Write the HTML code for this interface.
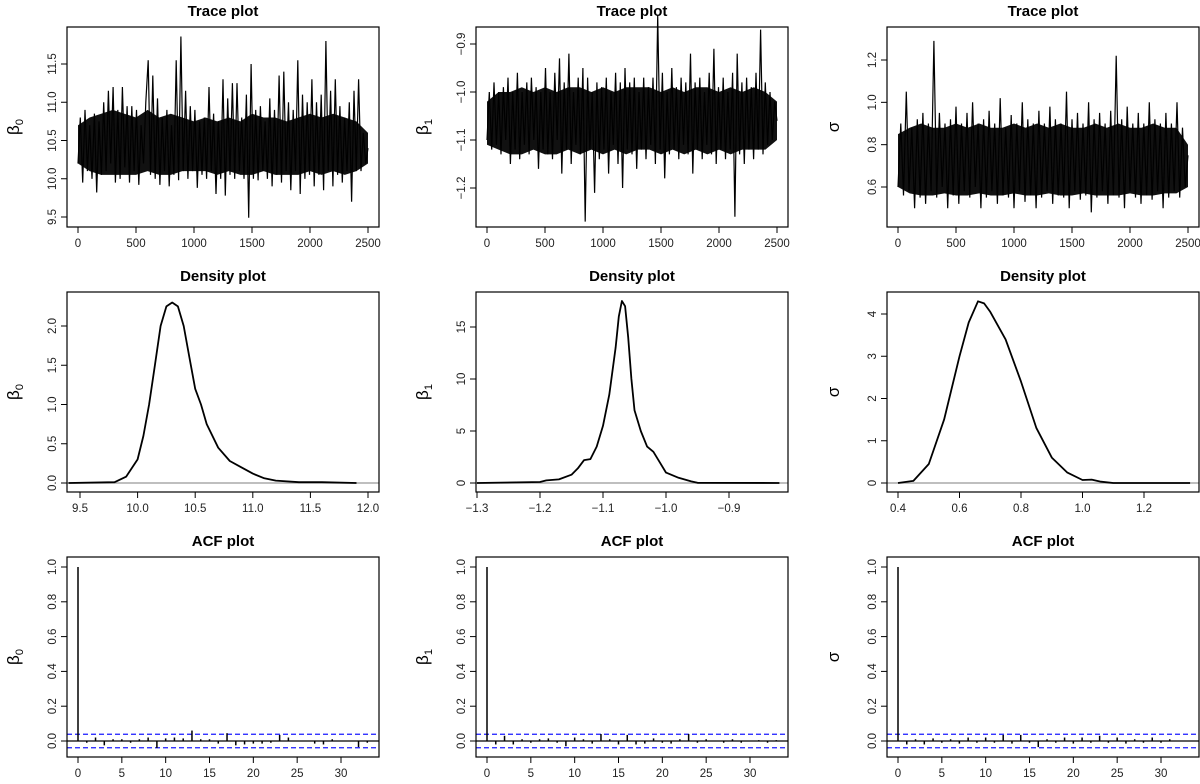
<!DOCTYPE html>
<html><head><meta charset="utf-8"><style>
body{margin:0;background:#fff;}
svg{display:block;font-family:"Liberation Sans",sans-serif;}
</style></head><body>
<svg id="c" width="1200" height="784" viewBox="0 0 1200 784"></svg>
<script>
const traceB0=[10.2,10.8,9.95,10.9,10.1,10.7,10.0,10.85,9.82,10.75,10.05,11.0,10.1,11.15,10.2,11.2,9.95,10.9,10.0,11.2,10.15,10.95,9.95,10.95,10.1,10.9,9.92,10.7,10.2,11.0,11.55,10.05,11.35,10.0,11.05,9.92,10.8,10.1,10.9,9.9,10.7,10.05,11.55,9.98,11.86,10.1,11.15,10.0,10.95,10.1,10.9,9.88,10.75,10.05,10.8,10.0,11.2,10.1,10.85,9.8,10.75,10.0,11.3,9.78,11.05,10.05,11.25,10.0,11.25,10.1,10.8,10.0,11.1,9.49,11.5,10.0,10.9,9.98,10.95,10.1,10.75,10.0,11.05,9.9,10.9,10.05,11.35,9.95,11.4,10.1,11.0,9.85,10.9,10.1,11.55,9.8,11.1,10.0,11.0,10.05,11.3,9.9,11.0,10.05,11.1,9.85,11.8,10.1,11.15,9.9,11.3,10.05,10.95,9.95,10.8,10.1,11.0,9.7,11.15,10.1,11.3,10.1,10.6,10.2,10.4];
const traceB1=[-1.1,-1.0,-1.12,-0.98,-1.11,-1.0,-1.13,-0.99,-1.1,-0.97,-1.15,-1.0,-1.12,-0.96,-1.14,-1.0,-1.11,-0.98,-1.13,-0.97,-1.1,-0.99,-1.16,-1.0,-1.12,-0.95,-1.13,-1.0,-1.14,-0.96,-1.1,-0.93,-1.17,-0.98,-1.12,-0.92,-1.15,-1.0,-1.11,-0.97,-1.13,-0.95,-1.27,-0.97,-1.12,-1.0,-1.21,-0.98,-1.14,-0.99,-1.12,-0.97,-1.17,-1.0,-1.11,-0.96,-1.15,-0.98,-1.2,-0.95,-1.12,-0.98,-1.13,-0.97,-1.16,-1.0,-1.12,-0.97,-1.14,-0.99,-1.11,-0.97,-1.15,-0.84,-1.12,-0.96,-1.18,-1.0,-1.13,-0.95,-1.12,-0.99,-1.14,-0.97,-1.11,-0.98,-1.13,-0.92,-1.17,-0.98,-1.12,-0.97,-1.14,-1.0,-1.11,-0.96,-1.13,-0.91,-1.15,-0.99,-1.12,-0.97,-1.14,-1.0,-1.12,-0.96,-1.26,-0.92,-1.13,-0.98,-1.15,-0.97,-1.12,-0.99,-1.14,-0.96,-1.12,-0.87,-1.13,-0.98,-1.11,-1.0,-1.1,-1.02,-1.06];
const traceS=[0.6,0.9,0.56,1.05,0.58,0.88,0.5,0.92,0.55,0.95,0.52,0.9,0.58,1.29,0.55,0.95,0.6,0.9,0.5,0.92,0.56,0.98,0.52,0.9,0.58,0.95,0.55,1.0,0.6,0.9,0.5,0.92,0.55,0.96,0.58,0.9,0.52,1.02,0.56,0.88,0.55,0.94,0.5,0.9,0.58,1.0,0.53,0.92,0.56,0.9,0.5,0.96,0.55,0.9,0.58,0.98,0.52,0.92,0.56,0.9,0.55,1.05,0.5,0.92,0.58,0.95,0.54,0.9,0.56,1.0,0.48,0.92,0.55,0.95,0.58,0.9,0.52,0.96,0.56,1.22,0.55,0.92,0.5,0.98,0.58,0.9,0.55,0.95,0.52,0.9,0.56,1.0,0.54,0.92,0.58,0.9,0.5,0.95,0.55,0.9,0.58,1.0,0.55,0.88,0.6,0.75];
// dense core band of each chain (upper/lower envelope every 100 iterations)
const bandB0Hi=[10.7,10.8,10.85,10.9,10.85,10.8,10.9,10.8,10.85,10.8,10.75,10.8,10.75,10.8,10.75,10.85,10.8,10.8,10.75,10.8,10.85,10.8,10.85,10.8,10.75,10.6];
const bandB0Lo=[10.2,10.1,10.05,10.05,10.05,10.05,10.1,10.05,10.05,10.1,10.1,10.1,10.05,10.1,10.05,10.05,10.1,10.05,10.05,10.05,10.1,10.05,10.1,10.05,10.1,10.2];
const bandB1Hi=[-1.02,-1.0,-1.0,-0.99,-1.0,-0.99,-1.0,-0.99,-0.99,-1.0,-0.99,-1.0,-0.99,-0.99,-0.99,-1.0,-0.99,-1.0,-0.99,-0.99,-1.0,-0.99,-1.0,-0.99,-1.0,-1.02];
const bandB1Lo=[-1.11,-1.12,-1.13,-1.13,-1.12,-1.13,-1.13,-1.12,-1.13,-1.12,-1.13,-1.12,-1.13,-1.12,-1.12,-1.13,-1.12,-1.13,-1.12,-1.13,-1.12,-1.13,-1.12,-1.12,-1.12,-1.1];
const bandSHi=[0.85,0.88,0.9,0.88,0.88,0.9,0.88,0.9,0.88,0.88,0.9,0.88,0.9,0.88,0.9,0.88,0.88,0.9,0.88,0.9,0.88,0.88,0.9,0.88,0.88,0.8];
const bandSLo=[0.6,0.57,0.56,0.56,0.57,0.56,0.56,0.57,0.56,0.56,0.57,0.56,0.56,0.57,0.56,0.56,0.57,0.56,0.56,0.56,0.57,0.56,0.56,0.57,0.57,0.6];
const densB0x=[9.4,9.8,9.9,10.0,10.05,10.1,10.15,10.2,10.25,10.3,10.35,10.4,10.45,10.5,10.55,10.6,10.7,10.8,10.9,11.0,11.1,11.2,11.4,11.6,11.9];
const densB0y=[0,0.01,0.08,0.3,0.6,1.0,1.5,2.0,2.25,2.3,2.25,2.0,1.6,1.2,1.0,0.75,0.45,0.28,0.2,0.12,0.06,0.03,0.01,0.01,0];
const densB1x=[-1.3,-1.2,-1.19,-1.17,-1.15,-1.14,-1.13,-1.12,-1.11,-1.10,-1.09,-1.08,-1.075,-1.07,-1.065,-1.06,-1.055,-1.05,-1.04,-1.03,-1.02,-1.01,-1.0,-0.98,-0.96,-0.95,-0.82];
const densB1y=[0,0.1,0.25,0.35,0.8,1.4,2.2,2.3,3.5,5.5,8.5,13,16,17.5,17,14,10,7,5,3.5,3.0,2.0,1.0,0.5,0.15,0.02,0];
const densSx=[0.4,0.45,0.5,0.55,0.6,0.63,0.66,0.68,0.7,0.75,0.8,0.85,0.9,0.95,1.0,1.03,1.06,1.1,1.35];
const densSy=[0,0.05,0.45,1.5,3.0,3.8,4.3,4.25,4.05,3.4,2.4,1.3,0.6,0.25,0.07,0.08,0.03,0,0];
const acfB0=[1,-0.01,0.02,-0.025,0.01,0.01,-0.01,0.01,0.02,-0.04,0.015,0.02,0.015,0.06,0.01,0.01,-0.015,0.045,-0.025,-0.02,-0.015,-0.015,-0.01,0.035,0.02,0,0,-0.015,-0.02,0.01,0,0,-0.035,-0.01];
const acfB1=[1,-0.02,0.03,-0.02,0.01,-0.01,0.01,0.015,-0.01,-0.03,0.02,0.01,-0.015,0.04,0.01,-0.02,0.035,-0.02,-0.015,0.015,-0.01,-0.015,0.01,0.04,-0.01,0.01,0,-0.01,0.01,-0.01,0,0.005,-0.01,0.005];
const acfS=[1,-0.02,0.01,-0.02,0.015,-0.01,0.01,-0.015,0.02,-0.01,0.02,-0.01,0.035,-0.015,0.035,-0.01,-0.035,0.01,-0.01,0.02,-0.015,0.02,-0.01,0.03,-0.01,0.02,-0.015,0.01,-0.01,0.02,-0.01,0.01,0,0];
const traceTicksX=[0,500,1000,1500,2000,2500];
const acfTicksX=[0,5,10,15,20,25,30];
const acfTicksY=[0,0.2,0.4,0.6,0.8,1.0];
const acfBand=0.039;

const svg=document.getElementById('c');
const NS='http://www.w3.org/2000/svg';
function mk(tag,attrs,parent,name){const e=document.createElementNS(NS,tag);for(const k in attrs)e.setAttribute(k,attrs[k]);


(parent||svg).appendChild(e);return e;}
function lin(v1,p1,v2,p2){return v=>p1+(v-v1)*(p2-p1)/(v2-v1);}
function fmt(v,d){let s=v.toFixed(d);return s.replace('-','\u2212');}
const W=312,H=200;
function panel(o){
  const g=mk('g',{},svg,o.name);
  const L=o.left,T=o.top;
  const X=lin(o.xv[0],L+o.xp[0],o.xv[1],L+o.xp[1]);
  const Y=lin(o.yv[0],o.yp[0],o.yv[1],o.yp[1]);
  const t=mk('text',{x:L+W/2,y:T-11,'text-anchor':'middle','font-size':15,'font-weight':'bold',fill:'#000'},g,'panel-title');t.textContent=o.title;
  o.draw(g,X,Y);
  mk('rect',{x:L,y:T,width:W,height:H,fill:'none',stroke:'#000','stroke-width':1.2},g,'plot-box');
  const xa=mk('g',{},g,'x-axis');
  mk('line',{x1:X(o.xt[0]),x2:X(o.xt[o.xt.length-1]),y1:T+H,y2:T+H,stroke:'#000'},xa,'x-axis-line');
  o.xt.forEach(v=>{const x=X(v);mk('line',{x1:x,x2:x,y1:T+H,y2:T+H+6,stroke:'#000'},xa,'x-tick');
    const tx=mk('text',{x:x,y:T+H+20,'text-anchor':'middle','font-size':11.5,fill:'#222'},xa,'x-tick-label');tx.textContent=fmt(v,o.xd);});
  const ya=mk('g',{},g,'y-axis');
  mk('line',{x1:L,x2:L,y1:Y(o.yt[0]),y2:Y(o.yt[o.yt.length-1]),stroke:'#000'},ya,'y-axis-line');
  o.yt.forEach(v=>{const y=Y(v);mk('line',{x1:L-6,x2:L,y1:y,y2:y,stroke:'#000'},ya,'y-tick');
    const tx=mk('text',{x:L-11,y:y,'text-anchor':'middle','font-size':11.5,fill:'#222',transform:`rotate(-90 ${L-11} ${y})`},ya,'y-tick-label');tx.textContent=fmt(v,o.yd);});
  const cy=T+H/2, lx=L-48;
  const yl=mk('text',{x:lx,y:cy,'text-anchor':'middle','font-size':17,fill:'#000',transform:`rotate(-90 ${lx} ${cy})`},g,'y-axis-title');
  yl.innerHTML=o.ylab;
}
const labs=['\u03B2<tspan font-size="11" dy="4">0</tspan>','\u03B2<tspan font-size="11" dy="4">1</tspan>','\u03C3'];
const lefts=[67,476,887];
const traces=[traceB0,traceB1,traceS];
const bands=[[bandB0Hi,bandB0Lo],[bandB1Hi,bandB1Lo],[bandSHi,bandSLo]];
const trY=[{yv:[11.5,9.5],yp:[64,217],yt:[9.5,10,10.5,11,11.5],yd:1},{yv:[-0.9,-1.2],yp:[44,188],yt:[-1.2,-1.1,-1.0,-0.9],yd:1},{yv:[1.2,0.6],yp:[60,187],yt:[0.6,0.8,1.0,1.2],yd:1}];
const dens=[[densB0x,densB0y],[densB1x,densB1y],[densSx,densSy]];
const dCfg=[{xv:[9.5,12],xp:[13,301],xt:[9.5,10,10.5,11,11.5,12],xd:1,yv:[0,2],yp:[483,326],yt:[0,0.5,1,1.5,2],yd:1},
 {xv:[-1.3,-0.9],xp:[1,253],xt:[-1.3,-1.2,-1.1,-1.0,-0.9],xd:1,yv:[0,15],yp:[483,327],yt:[0,5,10,15],yd:0},
 {xv:[0.4,1.2],xp:[11,257],xt:[0.4,0.6,0.8,1.0,1.2],xd:1,yv:[0,4],yp:[483,314],yt:[0,1,2,3,4],yd:0}];
const acfs=[acfB0,acfB1,acfS];
for(let c=0;c<3;c++){
  const tr=traces[c];
  const [bh,bl]=bands[c];
  panel({name:'trace-panel',left:lefts[c],top:27,title:'Trace plot',ylab:labs[c],xv:[0,2500],xp:[11,301],xt:traceTicksX,xd:0,...trY[c],
    draw:(g,X,Y)=>{
      const up=bh.map((v,i)=>X(i*2500/(bh.length-1)).toFixed(1)+','+Y(v).toFixed(1));
      const dn=bl.map((v,i)=>X(i*2500/(bl.length-1)).toFixed(1)+','+Y(v).toFixed(1)).reverse();
      mk('polygon',{points:up.concat(dn).join(' '),fill:'#111'},g,'trace-core-band');
      const pts=tr.map((v,i)=>X(i*2500/(tr.length-1)).toFixed(1)+','+Y(v).toFixed(1)).join(' ');
      mk('polyline',{points:pts,fill:'none',stroke:'#000','stroke-width':1.2},g,'trace-line');}});
  const [dx,dy]=dens[c];
  panel({name:'density-panel',left:lefts[c],top:292,title:'Density plot',ylab:labs[c],...dCfg[c],
    draw:(g,X,Y)=>{mk('line',{x1:lefts[c],x2:lefts[c]+W,y1:Y(0),y2:Y(0),stroke:'#aaa','stroke-width':1.5},g,'zero-line');
      const pts=dx.map((v,i)=>X(v).toFixed(1)+','+Y(dy[i]).toFixed(1)).join(' ');
      mk('polyline',{points:pts,fill:'none',stroke:'#000','stroke-width':1.8,'stroke-linejoin':'round'},g,'density-curve');}});
  const a=acfs[c];
  panel({name:'acf-panel',left:lefts[c],top:557,title:'ACF plot',ylab:labs[c],xv:[0,30],xp:[11,274],xt:acfTicksX,xd:0,yv:[1,0],yp:[567,741],yt:acfTicksY,yd:1,
    draw:(g,X,Y)=>{const L=lefts[c];
      mk('line',{x1:L,x2:L+W,y1:Y(0),y2:Y(0),stroke:'#000','stroke-width':1.2},g,'zero-line');
      [acfBand,-acfBand].forEach(b=>mk('line',{x1:L,x2:L+W,y1:Y(b),y2:Y(b),stroke:'#1a1aff','stroke-width':1.3,'stroke-dasharray':'5,3'},g,'confidence-band'));
      a.forEach((v,i)=>mk('line',{x1:X(i),x2:X(i),y1:Y(0),y2:Y(v),stroke:'#000','stroke-width':1.5},g,'acf-bar'));}});
}
</script>
</body></html>
